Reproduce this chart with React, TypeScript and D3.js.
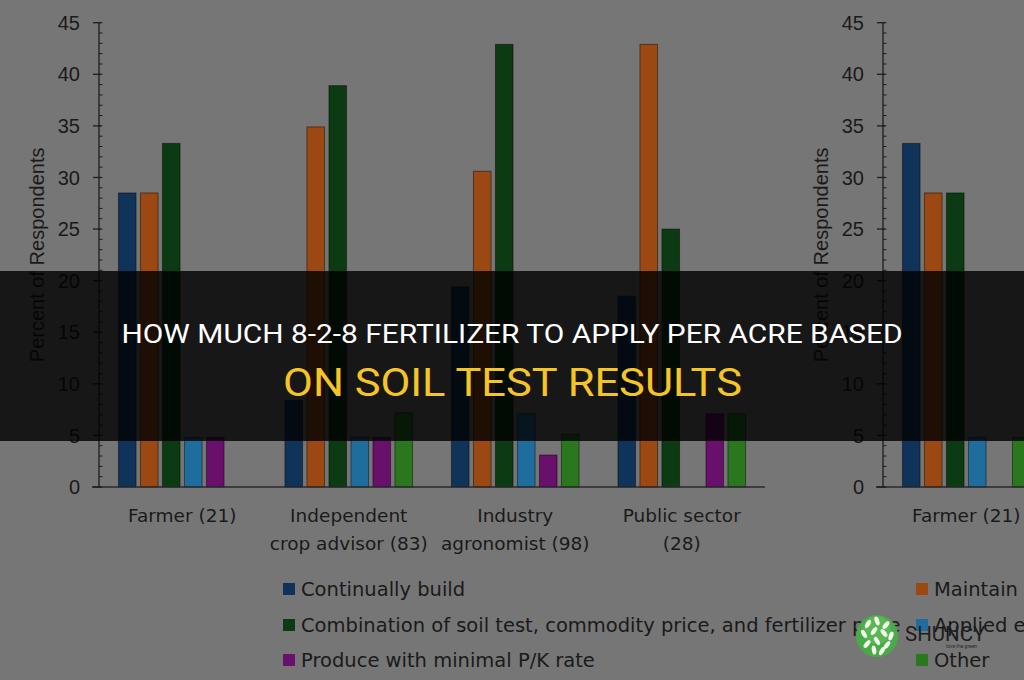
import React from "react";
import * as d3 from "d3";

const categories = ["Farmer (21)", "Independent crop advisor (83)", "Industry agronomist (98)", "Public sector (28)"];
const categoryLines = [["Farmer (21)"], ["Independent", "crop advisor (83)"], ["Industry", "agronomist (98)"], ["Public sector", "(28)"]];
const seriesNames = [
  "Continually build",
  "Maintain at current level",
  "Combination of soil test, commodity price, and fertilizer price",
  "Applied excess",
  "Produce with minimal P/K rate",
  "Other",
];
const seriesColors = ["#10335a", "#9c4812", "#0c3a12", "#1f6d9c", "#690f6c", "#2a771e"];

// left panel values per series (order of categories)
const continuallyBuild = [28.5, 8.4, 19.4, 18.5];
const maintain = [28.5, 34.9, 30.6, 42.9];
const combination = [33.3, 38.9, 42.9, 25.0];
const appliedExcess = [4.8, 4.8, 7.1, 0];
const produceMinimal = [4.8, 4.8, 3.1, 7.1];
const other = [0, 7.2, 5.1, 7.1];

// right panel (only the Farmer group is visible)
const rightCategories = ["Farmer (21)"];
const rightFarmer = [33.3, 28.5, 28.5, 4.8, 0, 4.8];

const yTicks = [0, 5, 10, 15, 20, 25, 30, 35, 40, 45];
const yMinorTicks = d3.range(0, 46, 1);

const titleLine1 = "HOW MUCH 8-2-8 FERTILIZER TO APPLY PER ACRE BASED";
const titleLine2 = "ON SOIL TEST RESULTS";

const leftSeries = [continuallyBuild, maintain, combination, appliedExcess, produceMinimal, other];

const FONT = "'Liberation Sans', Arial, sans-serif";
const WIDE = "'DejaVu Sans', 'Liberation Sans', sans-serif";
const TEXT = "#1a1a1a";

const yScale = d3.scaleLinear().domain([0, 45]).range([487, 22.7]);
const inner = d3.scaleBand<string>().domain(seriesNames).range([-66, 66]).paddingInner(0.2).paddingOuter(0.1);
const color = d3.scaleOrdinal<string, string>().domain(seriesNames).range(seriesColors);

function Panel({ axisX, cats, values }: { axisX: number; cats: string[]; values: (c: number, s: number) => number }) {
  const xGroup = d3.scaleBand<string>().domain(categories).range([axisX, axisX + 666]).padding(0);
  return (
    <g>
      <text
        transform={`translate(${axisX - 55},${(yScale(0) + yScale(45)) / 2}) rotate(-90)`}
        textAnchor="middle"
        fontFamily={FONT}
        fontSize={20}
        fill={TEXT}
      >
        Percent of Respondents
      </text>
      {cats.map((c, ci) =>
        seriesNames.map((s, si) => {
          const v = values(ci, si);
          if (!v) return null;
          const x = (xGroup(c) as number) + xGroup.bandwidth() / 2 + (inner(s) as number);
          return (
            <rect
              key={c + s}
              x={x}
              y={yScale(v)}
              width={inner.bandwidth()}
              height={yScale(0) - yScale(v)}
              fill={color(s)}
              stroke="rgba(0,0,0,0.45)"
              strokeWidth={1}
            />
          );
        })
      )}
      <line x1={axisX - 7} x2={axisX + 666} y1={yScale(0)} y2={yScale(0)} stroke="#2a2a2a" strokeWidth={1.3} />
      <line x1={axisX} x2={axisX} y1={yScale(45)} y2={yScale(0)} stroke="#1e1e1e" strokeWidth={1.3} />
      {yMinorTicks.map((t) => (
        <line key={"m" + t} x1={axisX} x2={axisX + 3.5} y1={yScale(t)} y2={yScale(t)} stroke="#1e1e1e" strokeWidth={1} />
      ))}
      {yTicks.map((t) => (
        <g key={t}>
          <line x1={axisX - 6} x2={axisX + 2} y1={yScale(t)} y2={yScale(t)} stroke="#1e1e1e" strokeWidth={1.3} />
          <text x={axisX - 19} y={yScale(t)} dy="0.36em" textAnchor="end" fontFamily={FONT} fontSize={20} fill={TEXT}>
            {t}
          </text>
        </g>
      ))}
      {cats.map((c) => {
        const idx = categories.indexOf(c);
        const cx = (xGroup(c) as number) + xGroup.bandwidth() / 2;
        return (
          <text key={"l" + c} x={cx} y={522} textAnchor="middle" fontFamily={WIDE} fontSize={18.5} fill={TEXT}>
            {categoryLines[idx].map((ln, li) => (
              <tspan key={li} x={cx} y={522 + li * 28}>
                {ln}
              </tspan>
            ))}
          </text>
        );
      })}
    </g>
  );
}

function Logo() {
  const cx = 877;
  const cy = 636;
  const leaves = [
    [-9, -12, 30], [0, -15, -20], [9, -11, 40], [-13, -2, -30], [-3, -5, 35], [7, -3, -40],
    [14, 0, 20], [-10, 8, 40], [0, 5, -30], [10, 9, 35], [-3, 14, -10], [5, 15, 30],
  ];
  return (
    <g>
      <circle cx={cx} cy={cy} r={21} fill="#4aaa48" />
      <circle cx={cx} cy={cy - 6} r={14} fill="#6cc35f" opacity={0.5} />
      {leaves.map(([dx, dy, a], i) => (
        <ellipse
          key={i}
          cx={cx + dx}
          cy={cy + dy}
          rx={2.2}
          ry={4.6}
          fill="#f2f7ee"
          transform={`rotate(${a},${cx + dx},${cy + dy})`}
        />
      ))}
      <text x={905} y={641} fontFamily="Roboto, sans-serif" fontSize={20.5} fill="#1d1d1d">
        SHUNCY
      </text>
      <text x={946} y={648} fontFamily="Roboto, sans-serif" fontSize={5} fill="#2a2a2a">
        love the green
      </text>
    </g>
  );
}

export default function App() {
  const legendRows = [
    [0, 1],
    [2, 3],
    [4, 5],
  ];
  const legendX = [283, 916];
  const legendY = [596, 632, 667];
  return (
    <>
      <style>{`body{margin:0;}`}</style>
      <svg width={1024} height={680} viewBox="0 0 1024 680" style={{ display: "block" }}>
        <rect x={0} y={0} width={1024} height={680} fill="#767676" />
        <Panel axisX={99} cats={categories} values={(c, s) => leftSeries[s][c]} />
        <Panel axisX={883} cats={rightCategories} values={(c, s) => rightFarmer[s]} />
        {legendRows.map((row, ri) =>
          row.map((si, ci) => (
            <g key={"lg" + si}>
              <rect x={legendX[ci]} y={legendY[ri] - 13} width={12} height={12} fill={seriesColors[si]} />
              <text x={legendX[ci] + 18} y={legendY[ri]} fontFamily={WIDE} fontSize={19.5} fill={TEXT}>
                {seriesNames[si]}
              </text>
            </g>
          ))
        )}
        <rect x={0} y={271} width={1024} height={170} fill="#000" opacity={0.8} />
        <text
          x={512}
          y={343}
          textAnchor="middle"
          fontFamily="Roboto, 'Liberation Sans', sans-serif"
          fontSize={25.5}
          fill="#ffffff"
          textLength={781}
          lengthAdjust="spacingAndGlyphs"
        >
          {titleLine1}
        </text>
        <text
          x={512.5}
          y={396}
          textAnchor="middle"
          fontFamily="Roboto, 'Liberation Sans', sans-serif"
          fontSize={38}
          fill="#f5c526"
          textLength={459}
          lengthAdjust="spacingAndGlyphs"
        >
          {titleLine2}
        </text>
        <Logo />
      </svg>
    </>
  );
}
